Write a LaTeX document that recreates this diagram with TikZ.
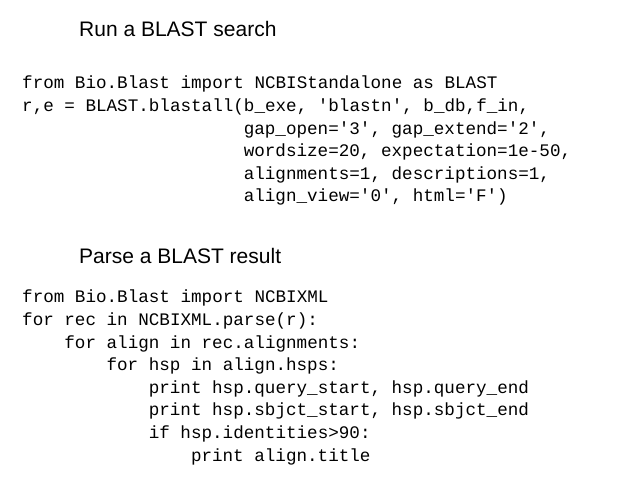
\documentclass[tikz,border=0pt]{standalone}
\usepackage{fontspec}
\setmainfont{Liberation Sans}
\newfontfamily\codefont{Liberation Mono}
\begin{document}
\begin{tikzpicture}[x=1pt,y=-1pt,
  head/.style={anchor=base west,inner sep=0,font=\fontsize{21}{24}\selectfont},
  code/.style={anchor=base west,inner sep=0,font=\codefont\fontsize{17.6}{20}\selectfont}]
\useasboundingbox[fill=white] (0,0) rectangle (638,478);
\node[head] (h1) at (79,37) {Run a BLAST search};
\node[code] (a1) at (22,89) {from Bio.Blast import NCBIStandalone as BLAST};
\node[code] (a2) at (22,111.6) {r,e = BLAST.blastall(b\_exe, 'blastn', b\_db,f\_in,};
\node[code] (a3) at (243.6,134.2) {gap\_open='3', gap\_extend='2',};
\node[code] (a4) at (243.6,156.8) {wordsize=20, expectation=1e-50,};
\node[code] (a5) at (243.6,179.4) {alignments=1, descriptions=1,};
\node[code] (a6) at (243.6,202) {align\_view='0', html='F')};
\node[head] (h2) at (79,264) {Parse a BLAST result};
\node[code] (b1) at (22,303) {from Bio.Blast import NCBIXML};
\node[code] (b2) at (22,325.6) {for rec in NCBIXML.parse(r):};
\node[code] (b3) at (64.2,348.2) {for align in rec.alignments:};
\node[code] (b4) at (106.4,370.8) {for hsp in align.hsps:};
\node[code] (b5) at (148.6,393.4) {print hsp.query\_start, hsp.query\_end};
\node[code] (b6) at (148.6,416) {print hsp.sbjct\_start, hsp.sbjct\_end};
\node[code] (b7) at (148.6,438.6) {if hsp.identities>90:};
\node[code] (b8) at (190.8,461.2) {print align.title};
\end{tikzpicture}
\end{document}
